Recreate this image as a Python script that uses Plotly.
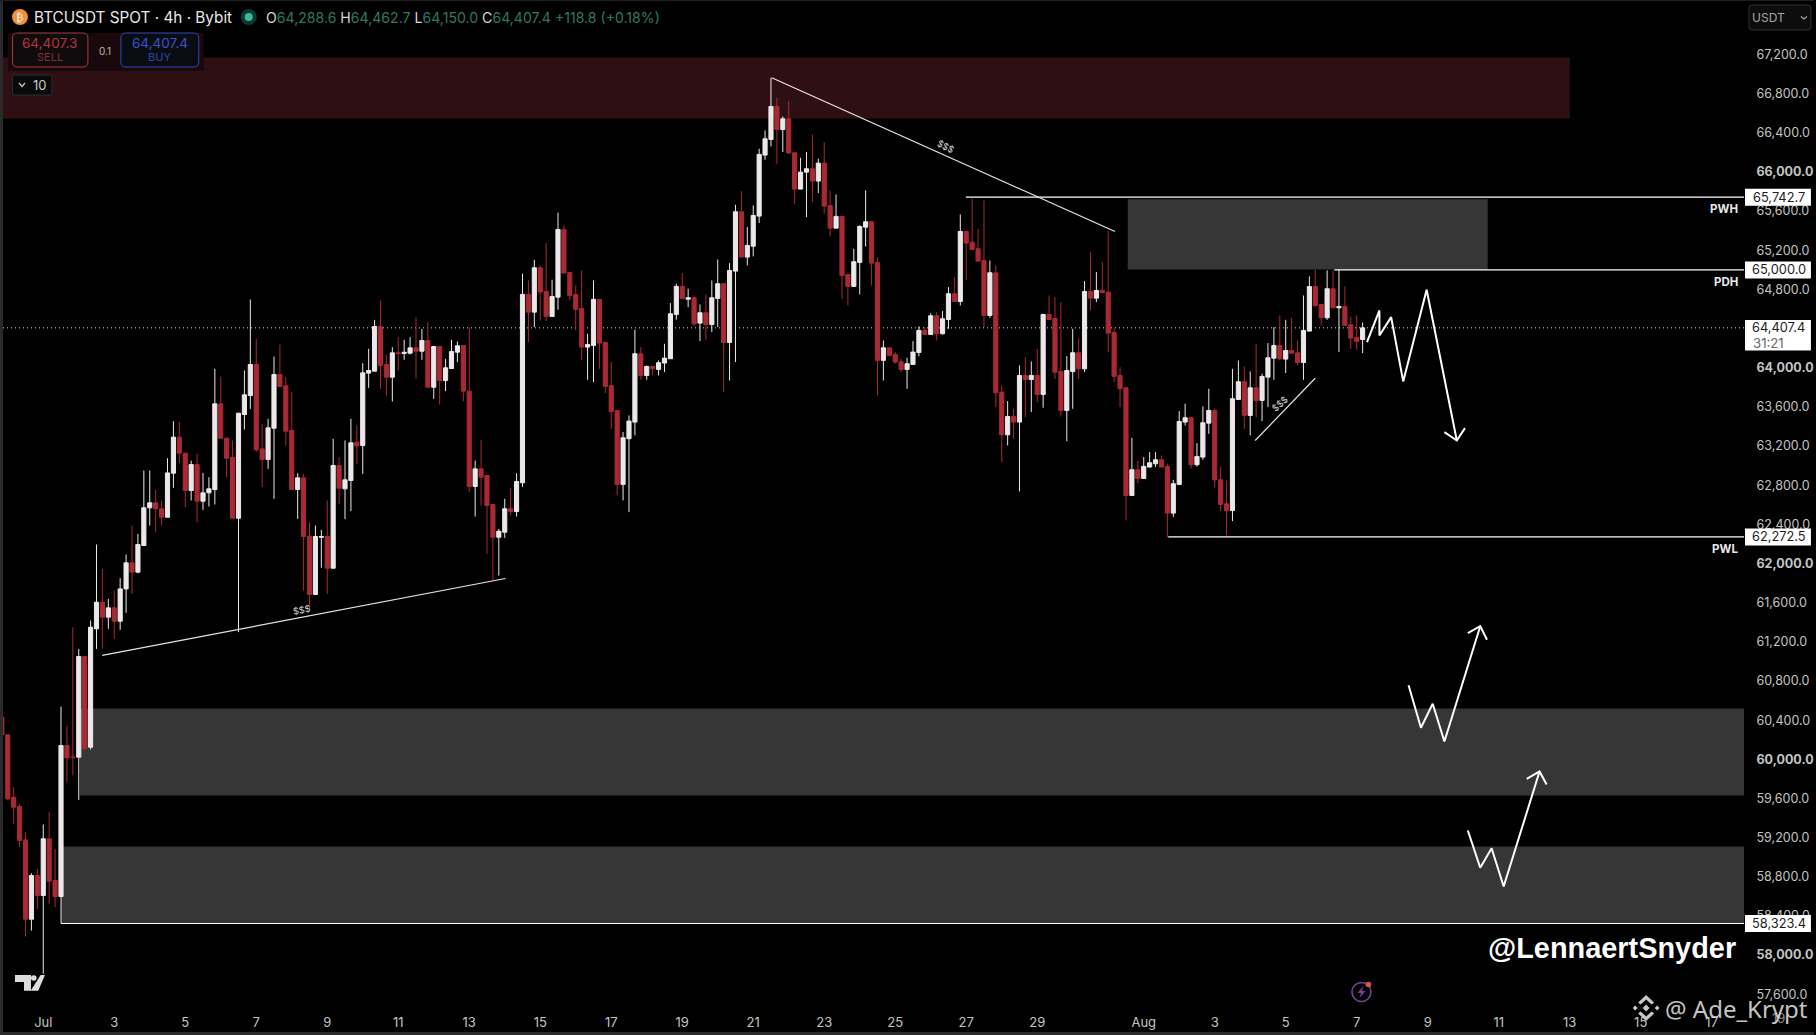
import pandas as pd
import plotly.graph_objects as go

W, H = 1816, 1035
PL, PR, PT, PB = 3, 1746, 2, 1002

first_candle = "2024-06-29 20:00"
origin = pd.Timestamp("2024-07-01")

opens = [60430,60250,59613,59518,59177,58367,58813,58609,59188,58762,
58599,60141,60022,60022,61050,60124,61333,61605,61452,61547,
61411,61741,62007,61912,62184,62569,62620,62559,62473,62923,
63291,63127,62746,63011,62637,62722,62756,63631,63280,63086,
62463,63522,63716,64033,63171,63062,63383,63931,63815,63359,
62756,62875,62279,61683,62268,62276,61952,63001,62763,62848,
63240,63205,63945,63965,64421,64033,63904,64152,64145,64149,
64203,64169,64278,63801,64217,63869,63992,64159,64227,63761,
62787,62967,62899,62603,62269,62320,62559,62531,62825,64749,
64568,65021,64780,64524,64721,65413,64974,64749,64606,64211,
64228,64698,64259,63819,63564,62808,63275,63445,64143,63921,
64013,63983,64048,64092,64545,64831,64700,64715,64456,64562,
64442,64708,64858,64258,64987,65593,65130,65242,65549,66172,
66332,66669,66434,66543,66196,65825,65998,66033,65907,66090,
65658,65426,65546,64953,64831,65076,65436,65491,65076,64075,
64204,64136,64061,63983,64034,64156,64381,64340,64531,64347,
64493,64756,64677,65392,65283,65215,65096,64534,64970,63751,
63315,63502,63445,63921,63880,63921,63727,64544,64503,63962,
63564,63962,64153,63989,64779,64711,64789,64772,64361,63921,
63795,62695,62958,62869,62985,63019,63060,62992,62515,62808,
63445,63489,63009,63087,63434,63564,62855,62610,62542,63676,
63857,63513,63795,63666,63904,64098,64228,64088,64177,64153,
64054,64374,64830,64646,64510,64807,64612,64625,64439,64310,
64288.6]

closes = [60250,59596,59511,59171,58367,58813,58609,59188,58755,58599,
60141,60015,60020,61050,60107,61350,61605,61452,61547,61411,
61741,62007,61912,62194,62569,62620,62559,62473,62926,63291,
63127,62746,63011,62637,62722,62763,63631,63280,63076,62463,
63536,63723,64033,63161,63062,63386,63931,63808,63352,62756,
62875,62276,61683,62276,62275,61952,63001,62770,62855,63233,
63202,63948,63972,64421,64023,63904,64152,64145,64158,64203,
64169,64278,63801,64217,63869,63999,64166,64224,63761,62787,
62967,62882,62593,62269,62330,62559,62531,62838,64749,64568,
65021,64773,64524,64728,65413,64967,64739,64596,64211,64238,
64698,64252,63809,63554,62808,63285,63455,64143,63921,64013,
63990,64051,64098,64551,64831,64705,64715,64449,64562,64442,
64715,64858,64258,64994,65593,65130,65249,65556,66179,66339,
66669,66434,66543,66193,65825,65998,66033,65907,66090,65651,
65426,65546,64943,64831,65083,65443,65491,65069,64075,64204,
64126,64058,63983,64041,64160,64381,64340,64531,64347,64500,
64756,64677,65392,65273,65208,65089,64534,64970,63744,63315,
63502,63445,63921,63880,63921,63727,64544,64493,63955,63564,
63972,64153,63989,64779,64711,64789,64766,64354,63911,63785,
62695,62958,62869,62992,63029,63060,62985,62515,62815,63451,
63489,63009,63094,63438,63564,62855,62603,62542,63683,63857,
63513,63795,63666,63911,64102,64228,64091,64177,64149,64054,
64381,64830,64636,64510,64807,64612,64625,64432,64303,64269,
64407.4]

highs = [60440,60250,59715,59545,59256,58837,58881,59334,59460,59085,
60539,60345,61350,61128,61050,61418,62194,61946,61639,61724,
61850,62092,62388,62303,62950,62950,62753,62644,63076,63454,
63444,63127,63052,63120,62926,62882,63989,63910,63290,63257,
63536,63972,64697,64295,63427,63478,64115,64237,63904,63750,
62923,62916,62422,62388,62344,62644,63274,63086,63257,63478,
63410,64047,64193,64489,64687,64135,64210,64312,64285,64312,
64516,64397,64465,64217,64217,64091,64285,64268,64227,64414,
63052,63263,62899,62603,62354,62661,62773,62923,64960,64892,
65103,65045,65273,64899,65583,65454,64974,64841,64994,64347,
64892,64698,64259,64058,63564,63343,63513,64388,64211,64023,
64013,64075,64245,64660,64858,64967,64807,64739,64647,64749,
64892,65106,64858,65069,65665,65804,65437,65658,66237,66424,
66962,66758,66567,66724,66196,66145,66203,66383,66135,66305,
65811,65770,65546,64953,65215,65454,65811,65498,65130,64279,
64204,64160,64092,64102,64272,64422,64415,64558,64568,64579,
64824,64926,65566,65400,65726,65419,65709,65096,65045,63819,
63659,63581,64023,64108,64064,64194,64551,64738,64721,64670,
64119,64398,64300,64885,65181,64977,65079,65396,64400,64006,
63795,63284,63053,63087,63138,63138,63104,63019,62855,63557,
63632,63489,63230,63605,63785,63581,62992,62849,63989,64074,
64013,63962,64245,63938,64252,64415,64534,64490,64510,64279,
64738,64933,65000,64646,64994,64994,65000,64830,64524,64534,
64462.7]

lows = [60250,59580,59341,59103,58190,58251,58473,57809,58524,58490,
58323,59766,59835,59586,60090,60100,61128,61128,61333,61231,
61323,61496,61690,61900,62180,62388,62320,62388,62473,62773,
63025,62576,62644,62422,62548,62582,62603,63280,62882,62463,
61299,63369,63580,63137,62780,62967,62661,63808,63206,62756,
62456,61724,61537,61683,61956,61690,61952,62610,62453,62535,
63018,62916,63795,63965,63784,63716,63655,63972,64081,64135,
63887,64081,63801,63682,63624,63761,63992,64057,63658,62729,
62480,62593,62099,61826,61878,62262,62490,62480,62781,64262,
64415,64483,64476,64524,64592,64967,64688,64381,64075,63877,
63853,63990,63741,63377,62696,62645,62525,63309,63877,63877,
63921,63921,63955,64092,64490,64705,64619,64432,64272,64286,
64364,64415,63751,63870,64058,65130,65045,65137,65478,66124,
66261,66084,66203,66193,65675,65825,65539,65692,65784,65573,
65341,65426,64705,64636,64831,64749,65239,64841,63717,63870,
64126,64040,63955,63785,64034,64116,64330,64340,64279,64340,
64398,64677,64636,64898,65208,65089,64415,64510,63598,63036,
63206,63274,62736,63496,63547,63649,63591,64493,63887,63502,
63250,63581,63887,63955,64585,64670,64766,64160,63853,63598,
62440,62695,62821,62869,62985,62985,62985,62270,62474,62808,
63410,62968,62992,63060,63325,62774,62535,62287,62433,63676,
63376,63308,63496,63455,63598,63877,64075,63945,64149,64023,
63877,64374,64620,64432,64490,64612,64160,64432,64194,64183,
64150]

price_ticks = [57600,58000,58400,58800,59200,59600,60000,60400,60800,61200,61600,62000,
               62400,62800,63200,63600,64000,64400,64800,65200,65600,66000,66400,66800,67200]
bold_ticks = [58000,60000,62000,64000,66000]
hidden_ticks = [64400]
date_tick_days = [0,2,4,6,8,10,12,14,16,18,20,22,24,26,28,31,33,35,37,39,41,43,45,47]
date_tick_text = ["Jul","3","5","7","9","11","13","15","17","19","21","23","25","27","29",
                  "Aug","3","5","7","9","11","13","15","17"]

x_range_days = [-1.134, 47.91]
y_range = [57521, 67736]

# Zones: (start day, end day, top price, bottom price)
supply_zone = (x_range_days[0], 43.0, 67169, 66546)
gap_zone = (30.55, 40.69, 65722, 65004)
demand_zone_a = (1.03, x_range_days[1], 60519, 59630)
demand_zone_b = (0.50, x_range_days[1], 59110, 58323.4)

level_prices = {"PWH": 65742.7, "PDH": 65000.0, "PWL": 62272.5, "LOW": 58323.4}
level_starts = {"PWH": 25.99, "PDH": 36.37, "PWL": 31.69, "LOW": 0.50}
last_price = 64407.4

trend_days = [(1.66, 13.02), (20.52, 30.19), (34.14, 35.83)]
trend_prices = [(61061, 61847), (66962, 65392), (63257, 63893)]
liq_days = [7.30, 25.43, 34.83]
liq_prices = [61531, 66260, 63635]
liq_angles = [-11, 27, -42]

path1_days = [37.29,37.64,37.64,37.97,38.31,38.97,39.82]
path1_prices = [64261,64585,64330,64517,63860,64796,63257]
head1_days = [39.47,39.82,40.05]
head1_prices = [63342,63257,63383]
path2_days = [38.46,38.81,39.14,39.47,40.48]
path2_prices = [60757,60322,60567,60182,61360]
head2_days = [40.13,40.48,40.67]
head2_prices = [61289,61360,61221]
path3_days = [40.13,40.48,40.80,41.14,42.15]
path3_prices = [59273,58892,59092,58701,59876]
head3_days = [41.79,42.15,42.35]
head3_prices = [59801,59876,59743]

UP, DOWN = "#ece8e9", "#a92a34"
ZONE = "#363636"
MAROON = "#2e1014"
TXT = "#c4c4c4"
FONT = "Inter"


def day(d):
    return (origin + pd.Timedelta(days=d)).strftime("%Y-%m-%d %H:%M:%S")


def days(ds):
    return [day(d) for d in ds]


def fx(px):
    return (px - PL) / (PR - PL)


def fy(py):
    return 1 - (py - PT) / (PB - PT)


times = pd.date_range(first_candle, periods=len(opens), freq="4h")

fig = go.Figure()
fig.add_trace(go.Candlestick(
    x=times, open=opens, high=highs, low=lows, close=closes,
    increasing=dict(line=dict(color=UP, width=1), fillcolor=UP),
    decreasing=dict(line=dict(color=DOWN, width=1), fillcolor=DOWN),
    whiskerwidth=0, hoverinfo="skip", showlegend=False,
))

for xs, ys in [(path1_days, path1_prices), (head1_days, head1_prices),
               (path2_days, path2_prices), (head2_days, head2_prices),
               (path3_days, path3_prices), (head3_days, head3_prices)]:
    fig.add_trace(go.Scatter(x=days(xs), y=ys, mode="lines", showlegend=False, hoverinfo="skip",
                             line=dict(color="#ffffff", width=2, shape="linear")))

shapes = []
annos = []


def zone(z, color):
    shapes.append(dict(type="rect", xref="x", yref="y", x0=day(z[0]), x1=day(z[1]), y0=z[3], y1=z[2],
                       fillcolor=color, line=dict(width=0), layer="below"))


zone(supply_zone, MAROON)
zone(gap_zone, ZONE)
zone(demand_zone_a, ZONE)
zone(demand_zone_b, ZONE)

shapes.append(dict(type="line", xref="x", yref="y", x0=day(x_range_days[0]), x1=day(x_range_days[1]),
                   y0=last_price, y1=last_price, layer="below",
                   line=dict(color="#d8d8d8", width=1, dash="1px 3px")))

for k, p in level_prices.items():
    shapes.append(dict(type="line", xref="x", yref="y", x0=day(level_starts[k]), x1=day(x_range_days[1]),
                       y0=p, y1=p, line=dict(color="#ffffff", width=1.1)))

for (a, b), (p, q) in zip(trend_days, trend_prices):
    shapes.append(dict(type="line", xref="x", yref="y", x0=day(a), x1=day(b), y0=p, y1=q,
                       line=dict(color="#e4e4e4", width=1.2)))


def text(px, py, s, size=12, color=TXT, xa="left", ya="middle", family=FONT, **kw):
    annos.append(dict(xref="paper", yref="paper", x=fx(px), y=fy(py), text=s, showarrow=False,
                      xanchor=xa, yanchor=ya, font=dict(size=size, color=color, family=family),
                      borderpad=0, borderwidth=0, **kw))


for d, p, a in zip(liq_days, liq_prices, liq_angles):
    annos.append(dict(xref="x", yref="y", x=day(d), y=p, text="$$$", showarrow=False, textangle=a,
                      font=dict(size=9, color="#d8d8d8", family=FONT)))


def rect(x0, y0, x1, y1, fill, line=None, lw=1):
    shapes.append(dict(type="rect", xref="paper", yref="paper", x0=fx(x0), x1=fx(x1), y0=fy(y0), y1=fy(y1),
                       fillcolor=fill, line=dict(width=lw if line else 0, color=line or fill), layer="above"))


def rrect(x0, y0, x1, y1, r, fill, line):
    pts = [f"M {fx(x0+r)} {fy(y0)}", f"L {fx(x1-r)} {fy(y0)}", f"Q {fx(x1)} {fy(y0)} {fx(x1)} {fy(y0+r)}",
           f"L {fx(x1)} {fy(y1-r)}", f"Q {fx(x1)} {fy(y1)} {fx(x1-r)} {fy(y1)}", f"L {fx(x0+r)} {fy(y1)}",
           f"Q {fx(x0)} {fy(y1)} {fx(x0)} {fy(y1-r)}", f"L {fx(x0)} {fy(y0+r)}",
           f"Q {fx(x0)} {fy(y0)} {fx(x0+r)} {fy(y0)} Z"]
    shapes.append(dict(type="path", xref="paper", yref="paper", path=" ".join(pts), fillcolor=fill,
                       line=dict(color=line, width=1), layer="above"))


def poly(pts, fill):
    s = "M " + " L ".join(f"{fx(a)} {fy(b)}" for a, b in pts) + " Z"
    shapes.append(dict(type="path", xref="paper", yref="paper", path=s, fillcolor=fill,
                       line=dict(width=0), layer="above"))


def stroke(pts, color, lw=1.2):
    s = "M " + " L ".join(f"{fx(a)} {fy(b)}" for a, b in pts)
    shapes.append(dict(type="path", xref="paper", yref="paper", path=s,
                       line=dict(width=lw, color=color), layer="above"))


def circle(cx, cy, r, fill, line=None, lw=1):
    shapes.append(dict(type="circle", xref="paper", yref="paper", x0=fx(cx-r), x1=fx(cx+r),
                       y0=fy(cy-r), y1=fy(cy+r), fillcolor=fill,
                       line=dict(width=lw if line else 0, color=line or fill), layer="above"))


# Frame
rect(0, 0, 3, 1035, "#2a2a2a")
rect(0, 1032, 1816, 1035, "#2a2a2a")
rect(0, 0, 1816, 1, "#1e1e1e")

# Header
circle(20, 17, 8, "#f2913a")
text(20, 17, "₿", size=11, color="#ffffff", xa="center", family="DejaVu Sans")
text(34, 17, "BTCUSDT SPOT · 4h · Bybit", size=15.3, color="#e8e8e8")
circle(249, 17, 8, "#0d3a30")
circle(249, 17, 4, "#3cb79b")
g = "#2c7a60"
w = "#d8d8d8"
sp = "&nbsp;"
ohlc = (f'<span style="color:{w}">O</span><span style="color:{g}">64,288.6{sp}</span>'
        f'<span style="color:{w}">H</span><span style="color:{g}">64,462.7{sp}</span>'
        f'<span style="color:{w}">L</span><span style="color:{g}">64,150.0{sp}</span>'
        f'<span style="color:{w}">C</span><span style="color:{g}">64,407.4{sp}+118.8{sp}(+0.18%)</span>')
text(266, 17, ohlc, size=14.1)

# Order panel
rect(8, 33, 204, 71, "#1a090c")
rrect(12.5, 33, 88, 67, 5, "#100b0c", "#a83a3e")
rrect(121, 33, 199, 67, 5, "#0a0c14", "#3048b4")
text(50, 43, "64,407.3", size=13.5, color="#b5373f", xa="center")
text(50, 57, "SELL", size=11, color="#8a2f34", xa="center")
text(160, 43, "64,407.4", size=13.5, color="#3a55c8", xa="center")
text(160, 57, "BUY", size=11, color="#2f46a0", xa="center")
text(105, 51, "0.1", size=10, color="#b8b8b8", xa="center")
rrect(12.5, 75, 52, 95, 2, "#0a0a0a", "#2c2c2c")
stroke([(19, 83), (22, 86.5), (25, 83)], "#c8c8c8")
text(40, 85, "10", size=13, color="#c8c8c8", xa="center")

# Right axis widgets
rrect(1751, 5, 1813, 30, 3, "#0d0d0d", "#303030")
text(1754, 17.5, "USDT", size=12, color="#a8a8a8")
stroke([(1803, 16.5), (1806, 19), (1809, 16.5)], "#a8a8a8")

for k, lab in [("PWH", "65,742.7"), ("PDH", "65,000.0"), ("PWL", "62,272.5"), ("LOW", "58,323.4")]:
    py = 54.5 + (67200 - level_prices[k]) * 0.0979
    rect(1747, py - 8.5, 1813, py + 8.5, "#ffffff")
    text(1781, py, lab, size=12.8, color="#1c1c1c", xa="center")

py = 54.5 + (67200 - last_price) * 0.0979
rect(1747, 320, 1813, 350.5, "#ffffff")
text(1781, py, "64,407.4", size=12.8, color="#1c1c1c", xa="center")
text(1755, 342.5, "31:21", size=13.2, color="#666666")

text(1740, 208.5, "<b>PWH</b>", size=11.5, color="#e8e8e8", xa="right")
text(1740, 281.5, "<b>PDH</b>", size=11.5, color="#e8e8e8", xa="right")
text(1740, 549, "<b>PWL</b>", size=11.5, color="#e8e8e8", xa="right")

# TradingView mark
poly([(15, 975), (31, 975), (31, 990.7), (24, 990.7), (24, 982), (15, 982)], "#dcdcdc")
circle(33.8, 978, 2.8, "#dcdcdc")
poly([(40.7, 975), (45, 975), (38.3, 990.7), (30.7, 990.7)], "#dcdcdc")

# Lightning badge
circle(1363, 992, 9.5, "rgba(0,0,0,0)", "#7a3f97", 1.6)
poly([(1365, 986), (1359, 993), (1362.5, 993), (1361, 998), (1367, 991), (1363.5, 991)], "#7a3f97")
circle(1370, 984.5, 2.8, "#d9534f")

# Extra date label past the plot
text(1781, 1018, "19", size=13, color="#8c8c8c", xa="center")

# Overlaid texts
text(1614, 948, "<b>@LennaertSnyder</b>", size=28.9, color="#ffffff", xa="center", family="Liberation Sans")
text(1667, 1008, "@ Ade_Krypt", size=24, color="rgba(225,225,225,0.88)", family="Noto Sans")
lg = "#c8c8c8"
for cx, cy, r in [(1648, 1008, 3.4), (1637, 1008, 2.4), (1659, 1008, 2.4)]:
    poly([(cx, cy-r), (cx+r, cy), (cx, cy+r), (cx-r, cy)], lg)
poly([(1648, 995), (1656, 1002.5), (1653.5, 1004.5), (1648, 999.5), (1642.5, 1004.5), (1640, 1002.5)], lg)
poly([(1648, 1021), (1656, 1013.5), (1653.5, 1011.5), (1648, 1016.5), (1642.5, 1011.5), (1640, 1013.5)], lg)

ticktext = []
for p in price_ticks:
    s = f"{p:,.1f}"
    ticktext.append(f"<b>{s}</b>" if p in bold_ticks else s)
ticktext = [t if p not in hidden_ticks else " " for p, t in zip(price_ticks, ticktext)]

fig.update_layout(
    width=W, height=H, autosize=False,
    margin=dict(l=PL, r=W-PR, t=PT, b=H-PB, pad=0),
    paper_bgcolor="#000000", plot_bgcolor="#000000",
    showlegend=False, hovermode=False, dragmode=False,
    boxgap=0.3, boxgroupgap=0,
    font=dict(family=FONT, color=TXT, size=13),
    shapes=shapes, annotations=annos,
    xaxis=dict(type="date", range=[day(x_range_days[0]), day(x_range_days[1])],
               rangeslider=dict(visible=False), showgrid=False, zeroline=False, showline=False,
               tickmode="array", tickvals=days(date_tick_days), ticktext=date_tick_text,
               ticks="outside", ticklen=8, tickcolor="rgba(0,0,0,0)", tickfont=dict(size=13, color=TXT)),
    yaxis=dict(side="right", range=y_range, showgrid=False, zeroline=False, showline=False,
               tickmode="array", tickvals=price_ticks, ticktext=ticktext,
               ticks="outside", ticklen=9, tickcolor="rgba(0,0,0,0)", tickfont=dict(size=12.5, color=TXT)),
)

fig.write_html("out.html", config=dict(displayModeBar=False, staticPlot=True),
               post_script="document.body.style.margin='0';document.body.style.overflow='hidden';")
